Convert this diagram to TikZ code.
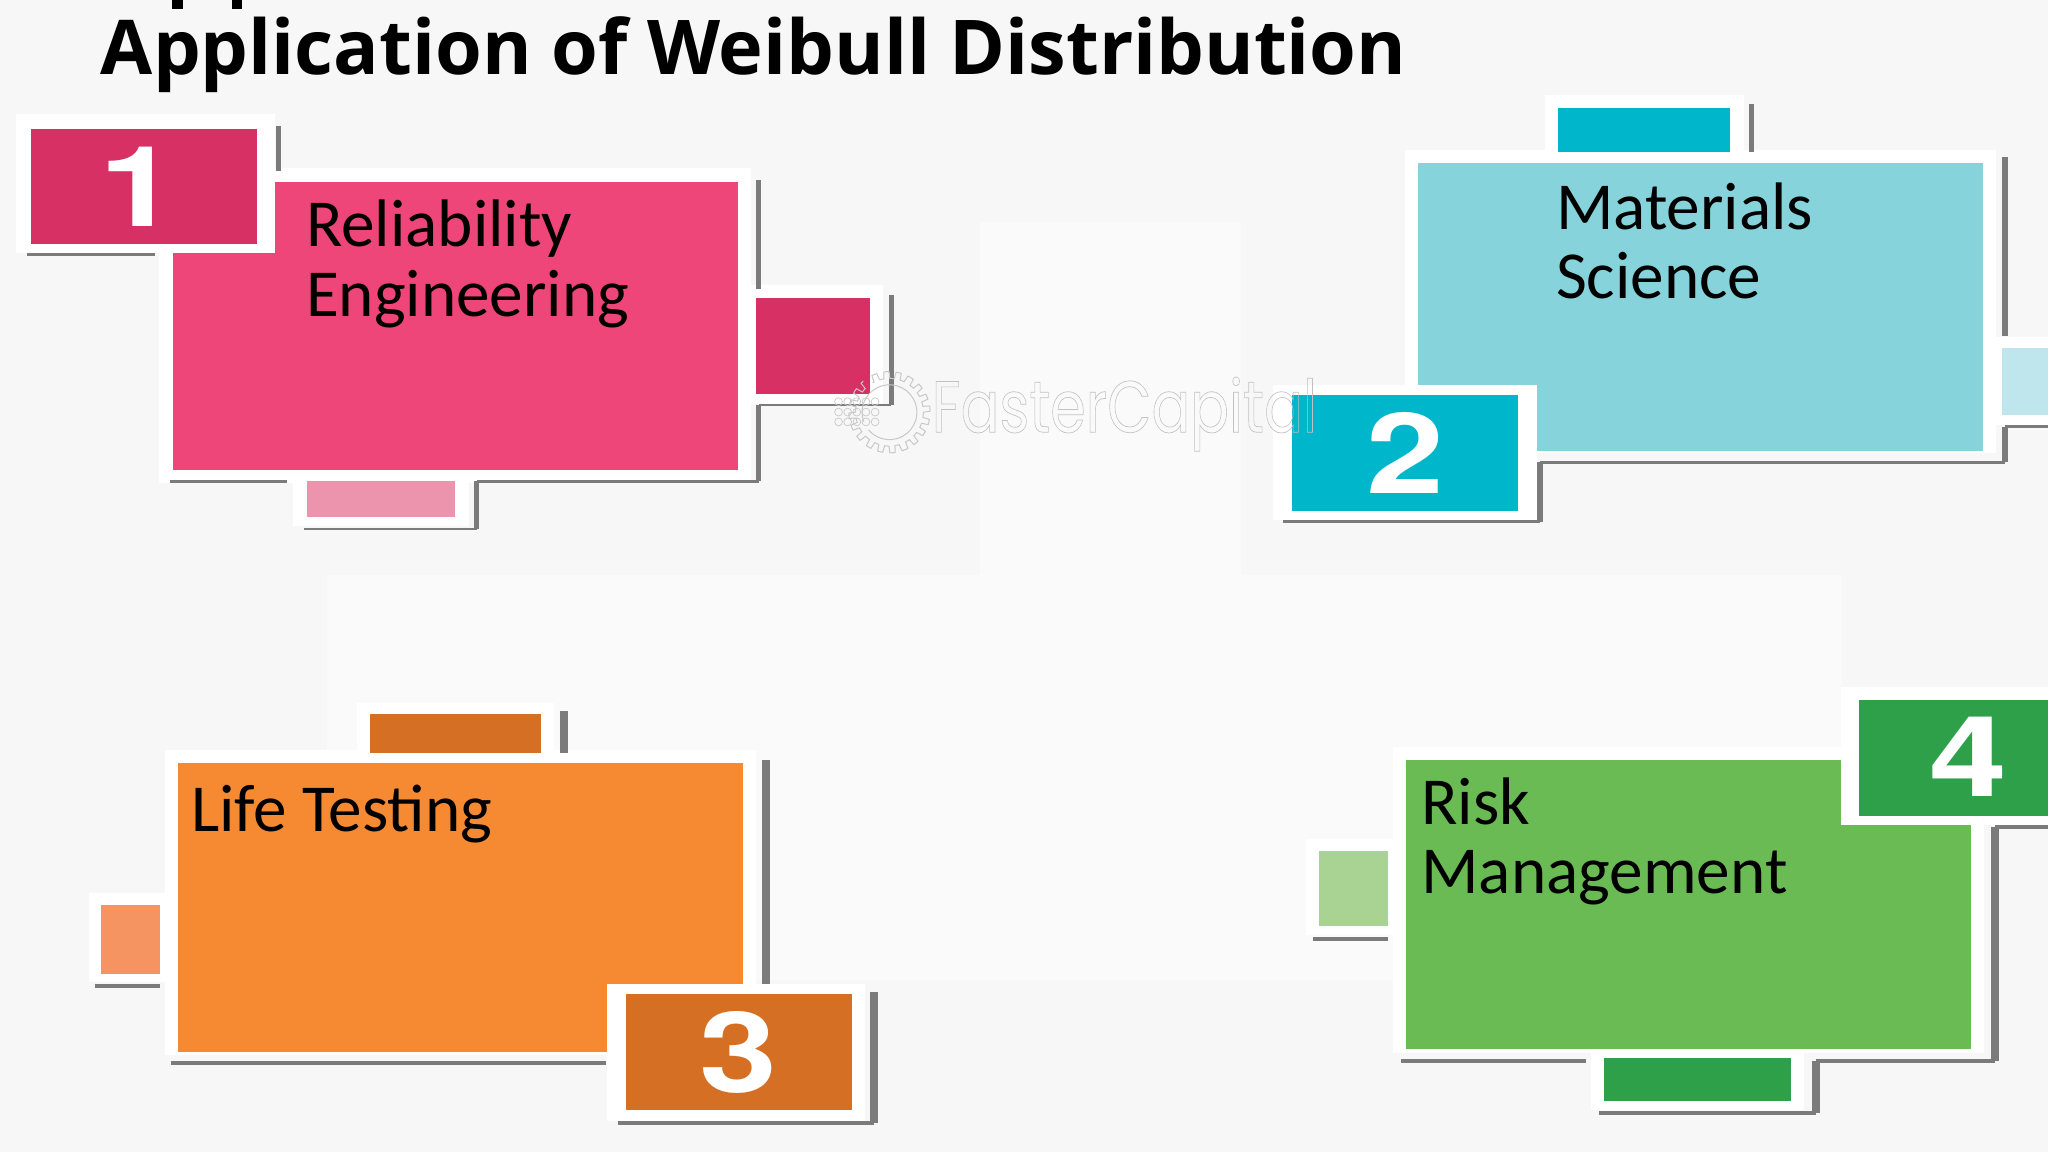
\documentclass[tikz,border=0pt]{standalone}
\usepackage{fontspec}
\setmainfont{Carlito}
\newfontfamily\titlefont{Open Sans}
\newfontfamily\digitfont{TeX Gyre Heros}
\newfontfamily\markfont{Poppins}
\definecolor{bgc}{HTML}{F7F7F7}
\definecolor{bgw}{HTML}{FAFAFA}
\definecolor{grayline}{HTML}{7B7B7B}
\definecolor{pinkM}{HTML}{EE4678}
\definecolor{pinkD}{HTML}{D63064}
\definecolor{pinkL}{HTML}{EC93AE}
\definecolor{tealM}{HTML}{87D3DC}
\definecolor{tealD}{HTML}{00B6CB}
\definecolor{tealL}{HTML}{BEE6EC}
\definecolor{orM}{HTML}{F68A33}
\definecolor{orD}{HTML}{D56F24}
\definecolor{orL}{HTML}{F59361}
\definecolor{grM}{HTML}{6BBB55}
\definecolor{grD}{HTML}{2EA04A}
\definecolor{grL}{HTML}{A8D393}
\definecolor{markc}{HTML}{C8C8C8}
\tikzset{
  hthin/.style={draw=grayline,line width=1.4pt,line cap=square},
  vthin/.style={draw=grayline,line width=2.6pt,line cap=butt},
  hthick/.style={draw=grayline,line width=2pt,line cap=square},
  vthick/.style={draw=grayline,line width=4pt,line cap=butt},
  lab/.style={font=\fontsize{33.6}{34.6}\selectfont,text=black,anchor=north west,align=left,inner sep=0pt},
  digit/.style={font=\digitfont\bfseries\fontsize{56}{56}\selectfont,text=white,inner sep=0pt},
  ttl/.style={font=\titlefont\bfseries\fontsize{37.8}{40}\selectfont,text=black,anchor=base west,inner sep=0pt},
  gearline/.style={draw=markc,line width=0.5pt},
}
\newcommand{\bx}[5]{\fill[#5] (#1,#2) rectangle (#3,#4);}
\newcommand{\widedigit}[1]{\scalebox{1.25}[1]{#1}}
\begin{document}
\begin{tikzpicture}[x=0.65306pt,y=-0.65306pt]
\useasboundingbox (0,0) rectangle (1568,882);
\clip (0,0) rectangle (1568,882);
\fill[bgc] (0,0) rectangle (1568,882);
\fill[bgw] (250,440) rectangle (1410,750);
\fill[bgw] (750,170) rectangle (950,440);
% title
\fill[black] (132,0) rectangle (140,7);
\fill[black] (177.6,0) rectangle (185.5,7);
\node[ttl] (title) at (77,57) {Application of Weibull Distribution};

% ---- panel 1
\fill[white] (122,129) rectangle (575,370);
\bx{132.5}{139}{565}{360}{pinkM}
\fill[white] (12,87) rectangle (210.5,194);
\bx{23.5}{98.4}{196.5}{187}{pinkD}
\fill[white] (571,218) rectangle (676,309);
\bx{579}{228.4}{666}{301.8}{pinkD}
\fill[white] (224,362) rectangle (359,403);
\bx{235}{368}{348}{396}{pinkL}
\draw[vthin] (213.5,96.5) -- (213.5,131);
\draw[hthin] (21,195) -- (118.5,195);
\draw[vthin] (581,138) -- (581,221);
\draw[vthin] (682.5,226) -- (682.5,310);
\draw[hthin] (682.5,310) -- (581,310);
\draw[vthin] (581,310) -- (581,368.5);
\draw[hthin] (581,368.5) -- (365,368.5);
\draw[vthin] (365,368.5) -- (365,405);
\draw[hthin] (365,405) -- (233,405);
\draw[hthin] (130,368.5) -- (220,368.5);
\node[lab] (t1) at (234,153) {Reliability\\Engineering};
\node[digit] (n1) at (106,143) {\widedigit{1}};

% ---- panel 2
\fill[white] (1076,115) rectangle (1528,347);
\bx{1086}{125}{1518}{345.3}{tealM}
\fill[white] (975,295) rectangle (1176.5,398);
\bx{989}{302.3}{1162.5}{391.2}{tealD}
\fill[white] (1183,73) rectangle (1335,123);
\bx{1193}{82.4}{1324.5}{116.7}{tealD}
\fill[white] (1525,258) rectangle (1568,325);
\bx{1533}{266.6}{1568}{317.8}{tealL}
\draw[vthin] (1341,79.6) -- (1341,116.7);
\draw[vthin] (1535,120.4) -- (1535,257.3);
\draw[hthin] (1568,326.8) -- (1535,326.8);
\draw[vthin] (1535,326.8) -- (1535,353.8);
\draw[hthin] (1535,353.8) -- (1179,353.8);
\draw[vthin] (1179,353.8) -- (1179,399.3);
\draw[hthin] (1179,399.3) -- (982.5,399.3);
\node[lab] (t2) at (1191,139.5) {Materials\\Science};
\node[digit] (n2) at (1076,347) {\widedigit{2}};

% ---- panel 3
\fill[white] (126.5,574) rectangle (579,808);
\bx{136.5}{583.9}{569}{805.5}{orM}
\fill[white] (465,753.7) rectangle (662,858);
\bx{479}{761.3}{652.5}{850.2}{orD}
\fill[white] (273,538) rectangle (424,582);
\bx{283.5}{547}{414}{576.5}{orD}
\fill[white] (68,684) rectangle (128,752);
\bx{77.5}{692.7}{122.5}{745.8}{orL}
\draw[vthick] (431.5,544.5) -- (431.5,576.5);
\draw[vthick] (586.5,581.6) -- (586.5,753.7);
\draw[vthick] (669.5,759.3) -- (669.5,859.5);
\draw[hthick] (669.5,859.5) -- (473.5,859.5);
\draw[hthick] (72.5,754.8) -- (122.5,754.8);
\draw[hthick] (131,814) -- (464,814);
\node[lab] (t3) at (146,601) {Life Testing};
\node[digit] (n3) at (565.5,805.5) {\widedigit{3}};

% ---- panel 4
\fill[white] (1066.5,572) rectangle (1519,806);
\bx{1076.5}{581.6}{1509}{803}{grM}
\fill[white] (1409.5,526) rectangle (1568,632);
\bx{1423.5}{536}{1568}{625}{grD}
\fill[white] (1218,805) rectangle (1381,850);
\bx{1228}{810}{1371}{843}{grD}
\fill[white] (1000,642) rectangle (1070,716);
\bx{1009.5}{651.6}{1062.5}{709}{grL}
\draw[hthick] (1568,633.4) -- (1527.5,633.4);
\draw[vthick] (1527.5,633.4) -- (1527.5,812);
\draw[hthick] (1527.5,812) -- (1390,812);
\draw[vthick] (1390,812) -- (1390,852);
\draw[hthick] (1390,852) -- (1224,852);
\draw[hthick] (1073,812) -- (1214,812);
\draw[hthick] (1005,718.6) -- (1062.5,718.6);
\node[lab] (t4) at (1088,595) {Risk\\Management};
\node[digit] (n4) at (1507,579.5) {\widedigit{4}};

% ---- watermark
\coordinate (gc) at (681,315.6);
\draw[gearline] plot[smooth,samples=240,domain=-230:120,variable=\a]
  ({681+(28.5+2.6*sign(sin(20*\a)))*cos(\a)},{315.6-(28.5+2.6*sign(sin(20*\a)))*sin(\a)});
\draw[gearline] (gc) ++(140:21) arc[start angle=140,end angle=-200,radius=21];
\foreach \ry in {307.5,315.5,323}{
  \foreach \rx in {642,649,656,663,670}{
    \draw[gearline,line width=0.35pt] (\rx,\ry) circle (3);
  }
}
\node[inner sep=0pt,anchor=base west] (mark) at (713,331)
  {\special{pdf:code q 1 Tr 0.35 w 0.76 G}\scalebox{0.786}[1]{\markfont\fontsize{36.5}{38}\selectfont FasterCapital}\special{pdf:code Q}};
\end{tikzpicture}
\end{document}
